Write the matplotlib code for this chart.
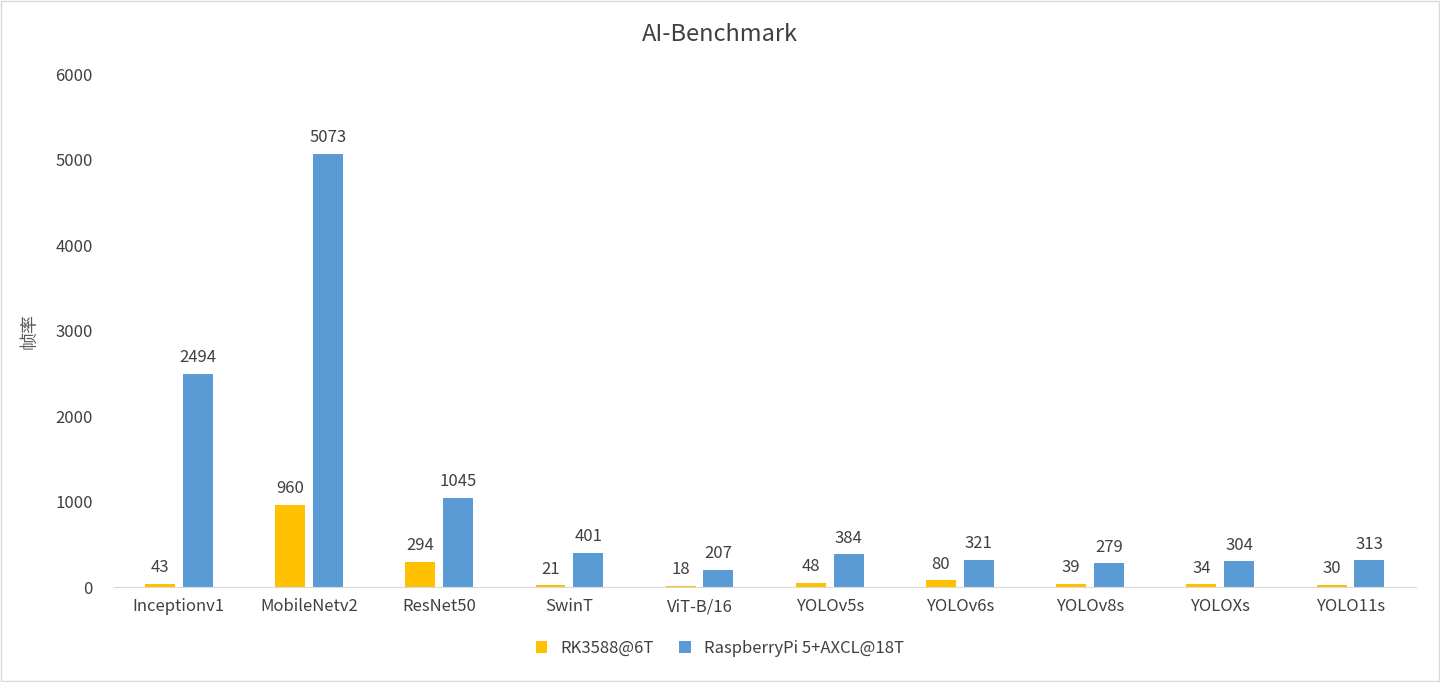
import matplotlib
matplotlib.use("Agg")
import matplotlib.pyplot as plt
import numpy as np

plt.rcParams['font.family'] = ['Noto Sans CJK SC', 'DejaVu Sans']

categories = ["Inceptionv1", "MobileNetv2", "ResNet50", "SwinT", "ViT-B/16",
              "YOLOv5s", "YOLOv6s", "YOLOv8s", "YOLOXs", "YOLO11s"]
rk3588 = [43, 960, 294, 21, 18, 48, 80, 39, 34, 30]
axcl = [2494, 5073, 1045, 401, 207, 384, 321, 279, 304, 313]

fig = plt.figure(figsize=(14.4, 6.82), dpi=100)
ax = fig.add_axes([0.079, 0.139, 0.904, 0.752])
x = np.arange(len(categories))
w = 0.23
b1 = ax.bar(x - 0.145, rk3588, w, color="#FFC000", label="RK3588@6T")
b2 = ax.bar(x + 0.145, axcl, w, color="#5B9BD5", label="RaspberryPi 5+AXCL@18T")
for bars, vals in ((b1, rk3588), (b2, axcl)):
    for r, v in zip(bars, vals):
        ax.text(r.get_x() + r.get_width() / 2, v + 90, str(v), ha="center", va="bottom",
                fontsize=12, color="#404040")
ax.set_xlim(-0.5, len(categories) - 0.5)
ax.set_ylim(0, 6000)
ax.set_yticks(range(0, 6001, 1000))
ax.set_xticks(x)
ax.set_xticklabels(categories, fontsize=12, color="#404040")
ax.tick_params(axis="y", labelsize=12, colors="#404040", length=0, pad=15)
ax.tick_params(axis="x", length=0, pad=8)
for s in ["top", "right", "left"]:
    ax.spines[s].set_visible(False)
ax.spines["bottom"].set_color("#D9D9D9")
ax.set_ylabel("帧率", fontsize=13, color="#595959", labelpad=12)
fig.text(0.5, 0.95, "AI-Benchmark", ha="center", va="center", fontsize=17, color="#404040")
fig.legend(handles=[b1, b2], loc="lower center", bbox_to_anchor=(0.5, 0.015), ncol=2,
           frameon=False, fontsize=12, handlelength=0.7, handleheight=0.7,
           columnspacing=1.5, labelcolor="#404040")
fig.patches.append(plt.Rectangle((0.001, 0.001), 0.998, 0.998, transform=fig.transFigure,
                                 fill=False, edgecolor="#D9D9D9", lw=1))
fig.savefig("out.png", dpi=100)
